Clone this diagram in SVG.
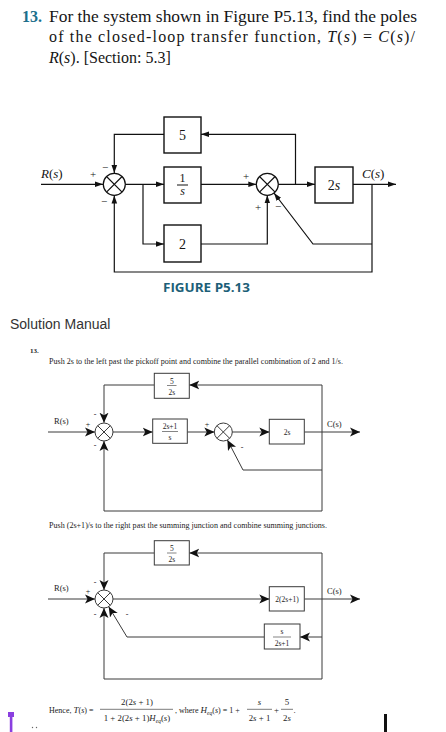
<svg xmlns="http://www.w3.org/2000/svg" width="446" height="732" viewBox="0 0 446 732">
<defs>
<style>
.t{font-family:"Liberation Serif","Times New Roman",serif;fill:#151515}
.i{font-style:italic}
.ln{fill:none;stroke:#111;stroke-width:1.2}
.ln2{fill:none;stroke:#3a3a3a;stroke-width:1}
.bx{fill:#fff;stroke:#111;stroke-width:1.4}
.bx2{fill:#fff;stroke:#3a3a3a;stroke-width:1}
.sm{font-family:"Liberation Serif","Times New Roman",serif;fill:#222}
.ctr{text-anchor:middle}
</style>
<marker id="a1" viewBox="0 0 10 10" refX="10" refY="5" markerWidth="8" markerHeight="8" markerUnits="userSpaceOnUse" orient="auto"><path d="M0,1.5 L10,5 L0,8.5 Z" fill="#111"/></marker>
<marker id="a2" viewBox="0 0 10 10" refX="10" refY="5" markerWidth="10" markerHeight="10" markerUnits="userSpaceOnUse" orient="auto"><path d="M0,0.5 L10,5 L0,9.5 L2.5,5 Z" fill="#111"/></marker>
</defs>
<rect width="446" height="732" fill="#fff"/>

<g id="title">
<text x="22" y="22" font-family="Liberation Serif,serif" font-size="16" font-weight="bold" fill="#1d6f8c">13.</text>
<text class="t" x="49" y="22" font-size="16" textLength="368" lengthAdjust="spacingAndGlyphs">For the system shown in Figure P5.13, find the poles</text>
<text class="t" x="49" y="42" font-size="16" textLength="366" lengthAdjust="spacing">of the closed-loop transfer function, <tspan class="i">T</tspan>(<tspan class="i">s</tspan>) = <tspan class="i">C</tspan>(<tspan class="i">s</tspan>)/</text>
<text class="t" x="49" y="63" font-size="16"><tspan class="i">R</tspan>(<tspan class="i">s</tspan>). [Section: 5.3]</text>
</g>

<g id="fig1-connectors">
<path class="ln" d="M41,184.3 H103" marker-end="url(#a1)"/>
<path class="ln" d="M164,134.3 H114.3 V173" marker-end="url(#a1)"/>
<path class="ln" d="M372,184.3 V272 H114.3 V195.5" marker-end="url(#a1)"/>
<path class="ln" d="M125.3,184.3 H164" marker-end="url(#a1)"/>
<path class="ln" d="M143,184.3 V244 H164" marker-end="url(#a1)"/>
<path class="ln" d="M201,184.3 H256.3" marker-end="url(#a1)"/>
<path class="ln" d="M278.3,184.3 H315" marker-end="url(#a1)"/>
<path class="ln" d="M295.5,184.3 V134.3 H201" marker-end="url(#a1)"/>
<path class="ln" d="M201,244 H267.3 V195.3" marker-end="url(#a1)"/>
<path class="ln" d="M353,184.3 H396" marker-end="url(#a1)"/>
<path class="ln" d="M372,244 H313 L274,193" marker-end="url(#a1)"/>
</g>
<g id="fig1-sum1">
<circle cx="114.3" cy="184.3" r="11" class="ln" fill="#fff"/>
<path class="ln" d="M106.5,176.5 L122.1,192.1 M122.1,176.5 L106.5,192.1"/>
<text class="t" x="93" y="178" font-size="11" text-anchor="middle">+</text>
<text class="t" x="105" y="171" font-size="11" text-anchor="middle">−</text>
<text class="t" x="104" y="205" font-size="11" text-anchor="middle">−</text>
</g>
<g id="fig1-sum2">
<circle cx="267.3" cy="184.3" r="11" class="ln" fill="#fff"/>
<path class="ln" d="M259.5,176.5 L275.1,192.1 M275.1,176.5 L259.5,192.1"/>
<text class="t" x="246" y="180" font-size="11" text-anchor="middle">+</text>
<text class="t" x="258" y="211" font-size="11" text-anchor="middle">+</text>
<text class="t" x="278" y="210" font-size="11" text-anchor="middle">−</text>
</g>
<g id="fig1-box5"><rect class="bx" x="164" y="117" width="37" height="36"/><text class="t ctr" x="182.5" y="140" font-size="14">5</text></g>
<g id="fig1-box1s"><rect class="bx" x="164" y="167" width="37" height="36"/><text class="t ctr" x="182.5" y="182" font-size="12">1</text><line x1="177" y1="185" x2="188" y2="185" stroke="#111" stroke-width="1"/><text class="t ctr i" x="182.5" y="195" font-size="12">s</text></g>
<g id="fig1-box2"><rect class="bx" x="164" y="225" width="37" height="37"/><text class="t ctr" x="182.5" y="249" font-size="14">2</text></g>
<g id="fig1-box2s"><rect class="bx" x="315" y="167" width="38" height="36"/><text class="t ctr" x="334" y="190" font-size="14">2<tspan class="i">s</tspan></text></g>
<g id="fig1-labels">
<text class="t" x="41" y="178" font-size="13"><tspan class="i">R</tspan>(<tspan class="i">s</tspan>)</text>
<text class="t" x="362" y="178" font-size="13"><tspan class="i">C</tspan>(<tspan class="i">s</tspan>)</text>
<text x="163" y="292" font-family="Open Sans,Liberation Sans,sans-serif" font-size="12.5" font-weight="bold" fill="#1d5f78" textLength="87" lengthAdjust="spacingAndGlyphs">FIGURE P5.13</text>
</g>

<text x="10" y="329" font-family="Liberation Sans,Arial,sans-serif" font-size="14" fill="#333">Solution Manual</text>
<text class="sm" x="30" y="353" font-weight="bold" font-size="7">13.</text>
<text class="sm" x="49" y="364" font-size="7.5" textLength="294" lengthAdjust="spacingAndGlyphs">Push 2s to the left past the pickoff point and combine the parallel combination of 2 and 1/s.</text>

<g id="fig2-connectors">
<path class="ln2" d="M48,432 H95" marker-end="url(#a2)"/>
<path class="ln2" d="M154,385 H104 V422.7" marker-end="url(#a2)"/>
<path class="ln2" d="M113,432 H152.7" marker-end="url(#a2)"/>
<path class="ln2" d="M187.3,432 H214.3" marker-end="url(#a2)"/>
<path class="ln2" d="M232.3,432 H269.3" marker-end="url(#a2)"/>
<path class="ln2" d="M304.3,432 H360" marker-end="url(#a2)"/>
<path class="ln2" d="M322,432 V385 H189.3" marker-end="url(#a2)"/>
<path class="ln2" d="M322,432 V511 H104 V441" marker-end="url(#a2)"/>
<path class="ln2" d="M322,470 H243 L227.4,440" marker-end="url(#a2)"/>
</g>
<g id="fig2-sum1">
<circle cx="104" cy="432" r="9" class="ln2" fill="#fff"/>
<path class="ln2" d="M97.6,425.6 L110.4,438.4 M110.4,425.6 L97.6,438.4"/>
<text class="sm ctr" x="88" y="427" font-size="8">+</text>
<text class="sm ctr" x="95" y="417" font-size="8">-</text>
<text class="sm ctr" x="95" y="448" font-size="8">-</text>
</g>
<g id="fig2-sum2">
<circle cx="223.3" cy="432" r="9" class="ln2" fill="#fff"/>
<path class="ln2" d="M216.9,425.6 L229.7,438.4 M229.7,425.6 L216.9,438.4"/>
<text class="sm ctr" x="207" y="427" font-size="8">+</text>
<text class="sm ctr" x="242" y="450" font-size="8">-</text>
</g>
<g id="fig2-box52s"><rect class="bx2" x="154.3" y="373.3" width="35" height="25"/><text class="sm ctr" x="171.8" y="383.5" font-size="7.5">5</text><line x1="167" y1="385.5" x2="176.5" y2="385.5" stroke="#333" stroke-width="0.6"/><text class="sm ctr" x="171.8" y="394.5" font-size="7.5">2s</text></g>
<g id="fig2-box2s1s"><rect class="bx2" x="152.7" y="419" width="34.6" height="24.3"/><text class="sm ctr" x="170" y="429" font-size="7.5">2s+1</text><line x1="162" y1="431.5" x2="178" y2="431.5" stroke="#333" stroke-width="0.6"/><text class="sm ctr" x="170" y="440" font-size="7.5">s</text></g>
<g id="fig2-box2s"><rect class="bx2" x="269.3" y="419.3" width="35" height="24.7"/><text class="sm ctr" x="287" y="434.5" font-size="7.5">2s</text></g>
<g id="fig2-labels">
<text class="sm" x="54" y="424" font-size="8.5">R(s)</text>
<text class="sm" x="327" y="427" font-size="8.5">C(s)</text>
</g>

<text class="sm" x="49" y="527.5" font-size="7.5" textLength="278" lengthAdjust="spacingAndGlyphs">Push (2s+1)/s to the right past the summing junction and combine summing junctions.</text>

<g id="fig3-connectors">
<path class="ln2" d="M48,599 H95" marker-end="url(#a2)"/>
<path class="ln2" d="M322,553 H189.3" marker-end="url(#a2)"/>
<path class="ln2" d="M154.3,553 H104 V590" marker-end="url(#a2)"/>
<path class="ln2" d="M113,599 H269.3" marker-end="url(#a2)"/>
<path class="ln2" d="M304.3,599 H360" marker-end="url(#a2)"/>
<path class="ln2" d="M322,553 V679 H104 V608" marker-end="url(#a2)"/>
<path class="ln2" d="M322,637 H300" marker-end="url(#a2)"/>
<path class="ln2" d="M264.3,637 H127 L108.7,606.7" marker-end="url(#a2)"/>
</g>
<g id="fig3-sum">
<circle cx="104" cy="599" r="9" class="ln2" fill="#fff"/>
<path class="ln2" d="M97.6,592.6 L110.4,605.4 M110.4,592.6 L97.6,605.4"/>
<text class="sm ctr" x="88" y="594" font-size="8">+</text>
<text class="sm ctr" x="95" y="585" font-size="8">-</text>
<text class="sm ctr" x="95" y="617" font-size="8">-</text>
<text class="sm ctr" x="127" y="617" font-size="8">-</text>
</g>
<g id="fig3-box52s"><rect class="bx2" x="154.3" y="540.7" width="35" height="24.3"/><text class="sm ctr" x="171.8" y="551" font-size="7.5">5</text><line x1="167" y1="553" x2="176.5" y2="553" stroke="#333" stroke-width="0.6"/><text class="sm ctr" x="171.8" y="562" font-size="7.5">2s</text></g>
<g id="fig3-box22s1"><rect class="bx2" x="269.3" y="586.7" width="35" height="24.3"/><text class="sm ctr" x="287" y="601.5" font-size="7.5">2(2s+1)</text></g>
<g id="fig3-boxs2s1"><rect class="bx2" x="264.3" y="624" width="35.7" height="25"/><text class="sm ctr" x="282" y="634" font-size="7.5">s</text><line x1="273" y1="637" x2="291" y2="637" stroke="#333" stroke-width="0.6"/><text class="sm ctr" x="282" y="646" font-size="7.5">2s+1</text></g>
<g id="fig3-labels">
<text class="sm" x="54" y="591" font-size="8.5">R(s)</text>
<text class="sm" x="327" y="593.5" font-size="8.5">C(s)</text>
</g>

<g id="formula">
<text class="sm" x="49" y="713" font-size="8">Hence, <tspan class="i" font-size="9">T</tspan>(<tspan class="i">s</tspan>) =</text>
<text class="sm ctr" x="137" y="705" font-size="8.8">2(2<tspan class="i">s</tspan> + 1)</text>
<line x1="100" y1="709.3" x2="173" y2="709.3" stroke="#222" stroke-width="0.6"/>
<text class="sm ctr" x="137" y="721" font-size="8.8">1 + 2(2<tspan class="i">s</tspan> + 1)<tspan class="i">H</tspan><tspan font-size="5.5" dy="1.5" class="i">eq</tspan><tspan dy="-1.5">(</tspan><tspan class="i">s</tspan>)</text>
<text class="sm" x="175" y="713" font-size="8">, where <tspan class="i" font-size="9">H</tspan><tspan font-size="5.5" dy="1.5" class="i">eq</tspan><tspan dy="-1.5">(</tspan><tspan class="i">s</tspan>) = 1 +</text>
<text class="sm ctr i" x="259.5" y="705" font-size="8.8">s</text>
<line x1="247" y1="709.3" x2="272" y2="709.3" stroke="#222" stroke-width="0.6"/>
<text class="sm ctr" x="259.5" y="721" font-size="8.8">2<tspan class="i">s</tspan> + 1</text>
<text class="sm ctr" x="276.5" y="713" font-size="8.8">+</text>
<text class="sm ctr" x="287" y="705" font-size="8.8">5</text>
<line x1="281" y1="709.3" x2="293" y2="709.3" stroke="#222" stroke-width="0.6"/>
<text class="sm ctr" x="287" y="721" font-size="8.8">2<tspan class="i">s</tspan></text>
<text class="sm" x="293.5" y="713" font-size="8.8">.</text>
</g>

<g id="marks">
<rect x="8" y="712" width="6" height="5" fill="#8a3fe0"/>
<rect x="9.8" y="712" width="2.6" height="20" fill="#8a3fe0"/>
<circle cx="32.5" cy="727.5" r="0.7" fill="#666"/>
<circle cx="36.5" cy="727.5" r="0.7" fill="#666"/>
<rect x="384" y="714" width="3" height="18" fill="#111"/>
</g>
</svg>
